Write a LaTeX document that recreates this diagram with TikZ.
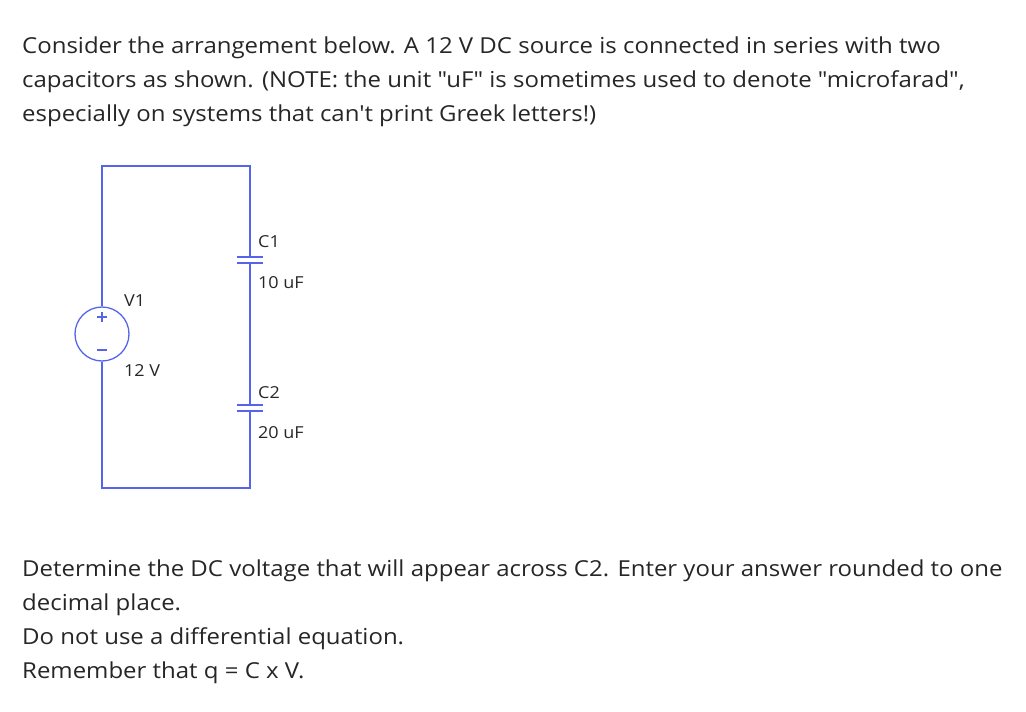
\documentclass[tikz,border=0pt]{standalone}
\usepackage{fontspec}
\setmainfont{Open Sans}[Ligatures=TeXOff,FakeStretch=1.09]
\begin{document}
\begin{tikzpicture}[x=1pt,y=-1pt,
  wire/.style={draw=wireblue,line width=1.6pt},
  txt/.style={anchor=base west,inner sep=0pt,font=\fontsize{22}{26}\selectfont,text=black!85},
  lbl/.style={anchor=base west,inner sep=0pt,font=\fontsize{16.5}{18}\selectfont,text=black!85}]
\definecolor{wireblue}{RGB}{85,100,235}
\useasboundingbox (0,0) rectangle (1026,712);
\node[txt] (t1) at (22,53) {Consider the arrangement below. A 12 V DC source is connected in series with two};
\node[txt] (t2) at (22,87) {capacitors as shown. (NOTE: the unit "uF" is sometimes used to denote "microfarad",};
\node[txt] (t3) at (22,121) {especially on systems that can't print Greek letters!)};
\node[txt] (t4) at (22,576) {Determine the DC voltage that will appear across C2. Enter your answer rounded to one};
\node[txt] (t5) at (22,610) {decimal place.};
\node[txt] (t6) at (22,644) {Do not use a differential equation.};
\node[txt] (t7) at (22,678) {Remember that q = C x V.};
% circuit
\coordinate (tl) at (102,166); \coordinate (tr) at (250,166);
\coordinate (bl) at (102,488); \coordinate (br) at (250,488);
\node[circle,draw=wireblue,line width=1.3pt,minimum size=54pt,inner sep=0pt] (v1) at (102,334) {};
\draw[wireblue,line width=1.3pt] (102,312) -- (102,322) (97,317) -- (107,317);
\draw[wireblue,line width=1.3pt] (97,350) -- (107,350);
\coordinate (c1a) at (250,257); \coordinate (c1b) at (250,263);
\coordinate (c2a) at (250,405); \coordinate (c2b) at (250,411);
\draw[wire] (v1.north) -- (tl) -- (tr) -- (c1a);
\draw[wire] (c1b) -- (c2a);
\draw[wire] (c2b) -- (br) -- (bl) -- (v1.south);
\foreach \c in {c1a,c1b,c2a,c2b}{\draw[wire] ([xshift=-13pt]\c) -- ([xshift=13pt]\c);}
\node[lbl] (l1) at (258,247) {C1};
\node[lbl] (l2) at (258,288) {10 uF};
\node[lbl] (l3) at (124,306) {V1};
\node[lbl] (l4) at (124,376) {12 V};
\node[lbl] (l5) at (258,398) {C2};
\node[lbl] (l6) at (258,438) {20 uF};
\end{tikzpicture}
\end{document}
